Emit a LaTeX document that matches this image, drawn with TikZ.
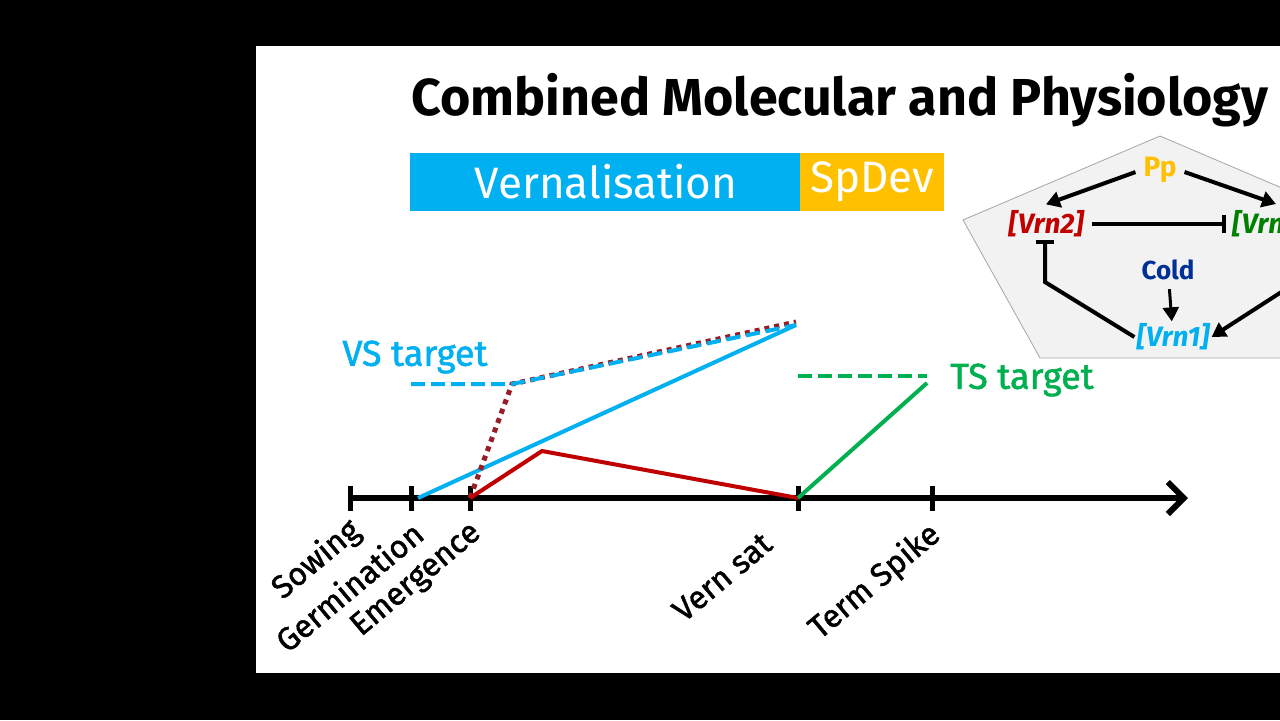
\documentclass[tikz,border=0pt]{standalone}
\usepackage{fontspec}
\setmainfont{Fira Sans}
\newfontfamily\chunky{Fira Sans}[FakeBold=1.5]
\usetikzlibrary{arrows.meta}
\definecolor{VernBlue}{RGB}{0,176,240}
\definecolor{SpDevOrange}{RGB}{255,192,0}
\definecolor{VrnRed}{RGB}{192,0,0}
\definecolor{DotRed}{RGB}{150,30,40}
\definecolor{TsGreen}{RGB}{0,176,80}
\definecolor{VrnGreen}{RGB}{0,128,0}
\definecolor{ColdBlue}{RGB}{0,48,150}
\definecolor{PentaGrey}{RGB}{242,242,242}

\begin{document}
\begin{tikzpicture}[x=0.5pt, y=-0.5pt,
  stage/.style={font=\chunky\fontsize{16}{16}\selectfont, rotate=40, anchor=north east, inner sep=0pt},
  gene/.style={font=\fontsize{14}{14}\bfseries\itshape\selectfont, inner sep=1pt},
  act/.style={line width=2pt, -{Triangle[length=7pt, width=8pt]}},
  inh/.style={line width=2pt, -{Bar[width=9pt, line width=2pt]}},
  curve/.style={line width=2pt},
  tick/.style={line width=2.5pt}]
\pgfmathsetmacro{\ya}{498} % y of the time axis
\useasboundingbox (0,0) rectangle (1280,720);
\fill[black] (0,0) rectangle (1280,720); % screen
\fill[white] (256,46) rectangle (1280,673); % slide

\node[font=\fontsize{26}{26}\bfseries\selectfont] (title) at (840,100) {Combined Molecular and Physiology};

\fill[VernBlue] (410,153) rectangle (800,211); % vernalisation bar
\fill[SpDevOrange] (800,153) rectangle (944,211); % spdev bar
\node[white, font=\fontsize{22}{22}\selectfont] (vern) at (606,182) {Vernalisation};
\node[white, font=\fontsize{22}{22}\selectfont] (spdev) at (872,182) {SpDev};

% gene network
\begin{scope}
\clip (256,46) rectangle (1280,673);
\filldraw[draw=gray!70, fill=PentaGrey] (1160,136) -- (963,220) -- (1040,358) -- (1280,358) -- (1357,220) -- cycle;
\node[gene, SpDevOrange, font=\fontsize{14}{14}\bfseries\selectfont] (pp) at (1160,170) {Pp};
\node[gene, VrnRed] (vrn2) at (1046,224) {[Vrn2]};
\node[gene, VrnGreen, anchor=west] (vrn3) at (1230,224) {[Vrn3]};
\node[ColdBlue, font=\fontsize{13}{13}\bfseries\selectfont] (cold) at (1168,270) {Cold};
\node[gene, VernBlue] (vrn1) at (1173,337) {[Vrn1]};
\coordinate (elbow) at (1045,282);
\coordinate (vrn1in) at (1300,280);
\draw[act, shorten <=3pt] (pp.west) -- ([yshift=2pt]vrn2.north);
\draw[act, shorten <=3pt] (pp.east) -- (1276,204);
\draw[inh, shorten <=3pt, shorten >=2pt] (vrn2.east) -- (vrn3.west);
\draw[act, line width=1.5pt, shorten <=1pt] (cold) -- (vrn1);
\draw[inh] (vrn1.west) -- (elbow) -- (elbow |- vrn2.south);
\draw[act] (vrn1in) -- (vrn1.east);
\end{scope}

% time axis
\coordinate (sow) at (350,\ya);
\coordinate (germ) at (411,\ya);
\coordinate (emer) at (470,\ya);
\coordinate (vsat) at (798,\ya);
\coordinate (tspike) at (932,\ya);
\coordinate (axend) at (1188,\ya);
\draw[line width=3pt, -{Straight Barb[length=8pt, width=16pt, line width=3pt]}] (sow) -- (axend);
\foreach \x in {350,411,470,798,932} \draw[tick] (\x,486) -- (\x,511);

\node[stage] (lsow) at (346,514) {Sowing};
\node[stage] (lgerm) at (410,518) {Germination};
\node[stage] (lemer) at (468,518) {Emergence};
\node[stage] (lvsat) at (760,530) {Vern sat};
\node[stage] (lts) at (926,518) {Term Spike};

% development curves
\coordinate (vsleft) at (411,384);
\coordinate (vsbend) at (512,384);
\coordinate (vstop) at (796,325);
\coordinate (redpk) at (542,451);
\coordinate (tsleft) at (798,376);
\coordinate (tsright) at (927,376);
\coordinate (tstop) at (927,383);
\draw[curve, VernBlue] ([xshift=3.5pt]germ) -- (vstop);
\draw[curve, DotRed, line width=2.5pt, dash pattern=on 2.5pt off 2.5pt] (emer) -- (vsbend) -- ([yshift=1.5pt]vstop);
\draw[curve, VernBlue, dash pattern=on 7pt off 3pt] (vsleft) -- (vsbend) -- (vstop);
\draw[curve, VrnRed] (emer) -- (redpk) -- (vsat);
\draw[curve, TsGreen] (vsat) -- (tstop);
\draw[curve, TsGreen, dash pattern=on 7pt off 3pt] (tsleft) -- (tsright);

\node[VernBlue, font=\chunky\fontsize{18}{18}\selectfont] (vslab) at (415,357) {VS target};
\node[TsGreen, font=\chunky\fontsize{18}{18}\selectfont] (tslab) at (1022,380) {TS target};
\end{tikzpicture}
\end{document}
